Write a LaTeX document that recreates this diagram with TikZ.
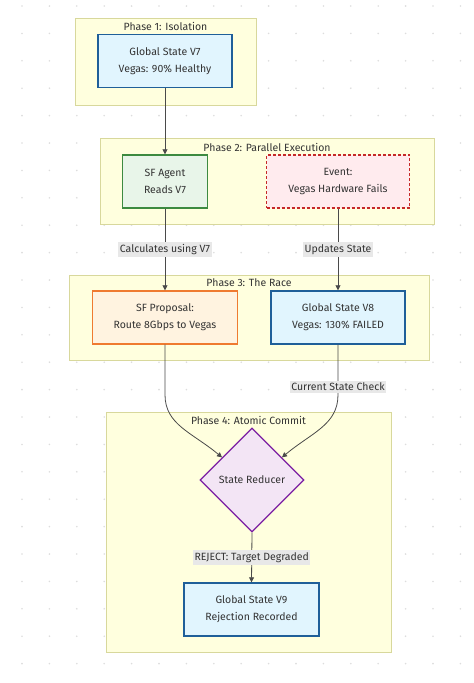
\documentclass[tikz,border=0pt]{standalone}
\usepackage{fontspec}
\setmainfont{Fira Sans}
\usetikzlibrary{shapes.geometric,arrows.meta,calc}
\definecolor{clfill}{HTML}{FFFFDE}
\definecolor{clline}{HTML}{D8D89C}
\definecolor{bluefill}{HTML}{E1F5FE}
\definecolor{blueline}{HTML}{1F5F99}
\definecolor{greenfill}{HTML}{E8F5E9}
\definecolor{greenline}{HTML}{3C8A40}
\definecolor{redfill}{HTML}{FFEBEE}
\definecolor{redline}{HTML}{C62828}
\definecolor{orangefill}{HTML}{FFF3E0}
\definecolor{orangeline}{HTML}{EF7A30}
\definecolor{purplefill}{HTML}{F3E5F5}
\definecolor{purpleline}{HTML}{7B1FA2}
\definecolor{txt}{HTML}{333333}
\definecolor{lblbg}{HTML}{E8E8E8}
\definecolor{edgec}{HTML}{4A4A4A}
\definecolor{dotc}{HTML}{DDDDDD}
\begin{document}
\begin{tikzpicture}[x=1pt,y=-1pt,
  every node/.style={text=txt, font=\fontsize{10.5}{17}\selectfont},
  box/.style={rectangle, draw, line width=1.4pt, align=center, inner sep=0pt},
  cluster/.style={rectangle, draw=clline, fill=clfill, line width=0.8pt, inner sep=0pt},
  phaselabel/.style={inner sep=0pt},
  elabel/.style={fill=lblbg, inner xsep=1.5pt, inner ysep=2pt, text=txt},
  edge/.style={draw=edgec, line width=0.8pt, -{Triangle[length=5pt,width=5pt]}}]
\fill[white] (0,0) rectangle (474,683);
\useasboundingbox (0,0) rectangle (474,683);
\foreach \i in {0,...,16} \foreach \j in {0,...,24} \fill[dotc] (22+27.4*\i, 6+27.4*\j) circle (0.9);
% clusters
\node[cluster, minimum width=181pt, minimum height=87pt] (p1) at (165.5,61.5) {};
\node[cluster, minimum width=334pt, minimum height=86pt] (p2) at (267,181) {};
\node[cluster, minimum width=360pt, minimum height=85pt] (p3) at (249,317.5) {};
\node[cluster, minimum width=285pt, minimum height=240pt] (p4) at (248.5,532) {};
\node[phaselabel] (p1t) at (165.5,26) {Phase 1: Isolation};
\node[phaselabel] (p2t) at (267,147) {Phase 2: Parallel Execution};
\node[phaselabel] (p3t) at (249,283) {Phase 3: The Race};
\node[phaselabel] (p4t) at (248.5,420) {Phase 4: Atomic Commit};
% nodes
\node[box, draw=blueline, fill=bluefill, minimum width=134pt, minimum height=53pt] (v7) at (165,61) {Global State V7\\Vegas: 90\% Healthy};
\node[box, draw=greenline, fill=greenfill, minimum width=85pt, minimum height=53pt] (agent) at (165,181.5) {SF Agent\\Reads V7};
\node[box, draw=redline, fill=redfill, line width=1.2pt, dash pattern=on 3pt off 2pt, minimum width=143pt, minimum height=53pt] (event) at (338,181.5) {Event:\\Vegas Hardware Fails};
\node[box, draw=orangeline, fill=orangefill, minimum width=145pt, minimum height=53pt] (prop) at (165,317.5) {SF Proposal:\\Route 8Gbps to Vegas};
\node[box, draw=blueline, fill=bluefill, minimum width=134pt, minimum height=53pt] (v8) at (338,317.5) {Global State V8\\Vegas: 130\% FAILED};
\node[diamond, draw=purpleline, fill=purplefill, line width=1.2pt, aspect=1, minimum width=104pt, minimum height=104pt, inner sep=0pt] (red) at (252,480) {State Reducer};
\node[box, draw=blueline, fill=bluefill, minimum width=135pt, minimum height=53pt] (v9) at (251.5,609.5) {Global State V9\\Rejection Recorded};
% edges
\coordinate (rl) at ($(red.north)!0.57!(red.west)$);
\coordinate (rr) at ($(red.north)!0.57!(red.east)$);
\draw[edge] (v7.south) -- (agent.north);
\draw[edge] (agent.south) -- node[elabel] {Calculates using V7} (prop.north);
\draw[edge] (event.south) -- node[elabel] {Updates State} (v8.north);
\draw[edge] (prop.south) -- ++(0,50) .. controls +(0,30) and +(-30,-25) .. (rl);
\draw[edge] (v8.south) -- node[elabel, pos=0.84] {Current State Check} ++(0,50) .. controls +(0,30) and +(30,-25) .. (rr);
\draw[edge] (red.south) -- node[elabel] {REJECT: Target Degraded} (v9.north);
\end{tikzpicture}
\end{document}
